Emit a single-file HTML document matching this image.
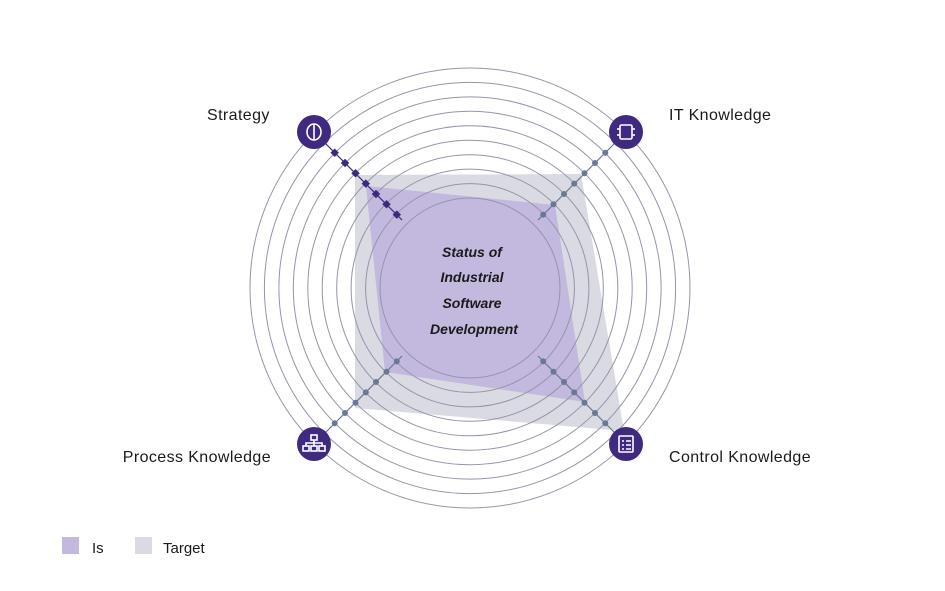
<!DOCTYPE html>
<html><head><meta charset="utf-8"><style>
body{margin:0;background:#fff}
svg{display:block}
text{font-family:"Liberation Sans",sans-serif;fill:#1a1a1a}
</style></head><body>
<svg width="945" height="591" viewBox="0 0 945 591">
<polygon points="355,175 581,174 624,431 355,408" fill="#dadae3"/>
<polygon points="366,186 555,205 585,402 385,372" fill="#c3b9de"/>
<g fill="none" stroke="#9595aa" stroke-width="1">
<circle cx="470" cy="288" r="220"/><circle cx="470" cy="288" r="205.6"/><circle cx="470" cy="288" r="191.1"/><circle cx="470" cy="288" r="176.7"/><circle cx="470" cy="288" r="162.2"/><circle cx="470" cy="288" r="147.8"/><circle cx="470" cy="288" r="133.3"/><circle cx="470" cy="288" r="118.9"/><circle cx="470" cy="288" r="104.4"/><circle cx="470" cy="288" r="90"/>
</g>
<g stroke-width="1.2">
<line x1="314" y1="132" x2="402" y2="220" stroke="#3d2a7d"/>
<line x1="626" y1="132" x2="538" y2="220" stroke="#6b7895"/>
<line x1="314" y1="444" x2="402" y2="356" stroke="#6b7895"/>
<line x1="626" y1="444" x2="538" y2="356" stroke="#6b7895"/>
</g>
<g fill="#3d2a7d">
<rect x="331.7" y="149.7" width="6" height="6" transform="rotate(45 334.7 152.7)"/>
<rect x="342" y="160" width="6" height="6" transform="rotate(45 345 163)"/>
<rect x="352.5" y="170.3" width="6" height="6" transform="rotate(45 355.5 173.3)"/>
<rect x="362.8" y="180.6" width="6" height="6" transform="rotate(45 365.8 183.6)"/>
<rect x="373" y="191" width="6" height="6" transform="rotate(45 376 194)"/>
<rect x="383.5" y="201.3" width="6" height="6" transform="rotate(45 386.5 204.3)"/>
<rect x="393.8" y="211.6" width="6" height="6" transform="rotate(45 396.8 214.6)"/>
</g>
<g fill="#6b7895">
<g transform="translate(940 0) scale(-1 1)">
<circle cx="334.7" cy="152.7" r="3"/><circle cx="345" cy="163" r="3"/><circle cx="355.5" cy="173.3" r="3"/><circle cx="365.8" cy="183.6" r="3"/><circle cx="376" cy="194" r="3"/><circle cx="386.5" cy="204.3" r="3"/><circle cx="396.8" cy="214.6" r="3"/>
</g>
<g transform="translate(0 576) scale(1 -1)">
<circle cx="334.7" cy="152.7" r="3"/><circle cx="345" cy="163" r="3"/><circle cx="355.5" cy="173.3" r="3"/><circle cx="365.8" cy="183.6" r="3"/><circle cx="376" cy="194" r="3"/><circle cx="386.5" cy="204.3" r="3"/><circle cx="396.8" cy="214.6" r="3"/>
</g>
<g transform="translate(940 576) scale(-1 -1)">
<circle cx="334.7" cy="152.7" r="3"/><circle cx="345" cy="163" r="3"/><circle cx="355.5" cy="173.3" r="3"/><circle cx="365.8" cy="183.6" r="3"/><circle cx="376" cy="194" r="3"/><circle cx="386.5" cy="204.3" r="3"/><circle cx="396.8" cy="214.6" r="3"/>
</g>
</g>
<g fill="#3f2a80">
<circle cx="314" cy="132" r="17"/><circle cx="626" cy="132" r="17"/><circle cx="314" cy="444" r="17"/><circle cx="626" cy="444" r="17"/>
</g>
<g fill="none" stroke="#fff" stroke-width="1.6">
<ellipse cx="314" cy="132" rx="7" ry="8"/><line x1="314" y1="124" x2="314" y2="140"/>
<rect x="620" y="125" width="12" height="14" rx="1.5"/><line x1="617" y1="129" x2="620" y2="129"/><line x1="617" y1="135" x2="620" y2="135"/><line x1="632" y1="129" x2="635" y2="129"/><line x1="632" y1="135" x2="635" y2="135"/>
<rect x="311" y="435" width="6" height="5"/><path d="M314 440v3M306 446v-3h16v3M314 443v3"/><rect x="303" y="446" width="6" height="5"/><rect x="311" y="446" width="6" height="5"/><rect x="319" y="446" width="6" height="5"/>
<rect x="619" y="436" width="14" height="16" rx="1"/><path d="M622 441h2M626 441h5M622 445h2M626 445h5M622 449h2M626 449h5"/>
</g>
<g font-size="16" letter-spacing="0.4">
<text x="207" y="120">Strategy</text>
<text x="669" y="120">IT Knowledge</text>
<text x="271" y="462" text-anchor="end">Process Knowledge</text>
<text x="669" y="462">Control Knowledge</text>
</g>
<g font-size="14" font-weight="bold" font-style="italic" text-anchor="middle">
<text x="472" y="257">Status of</text>
<text x="472" y="282">Industrial</text>
<text x="472" y="308">Software</text>
<text x="474" y="334">Development</text>
</g>
<rect x="62" y="537" width="17" height="17" fill="#c3b9de"/>
<text x="92" y="553" font-size="15">Is</text>
<rect x="135" y="537" width="17" height="17" fill="#dadae3"/>
<text x="163" y="553" font-size="15">Target</text>
</svg>
</body></html>
